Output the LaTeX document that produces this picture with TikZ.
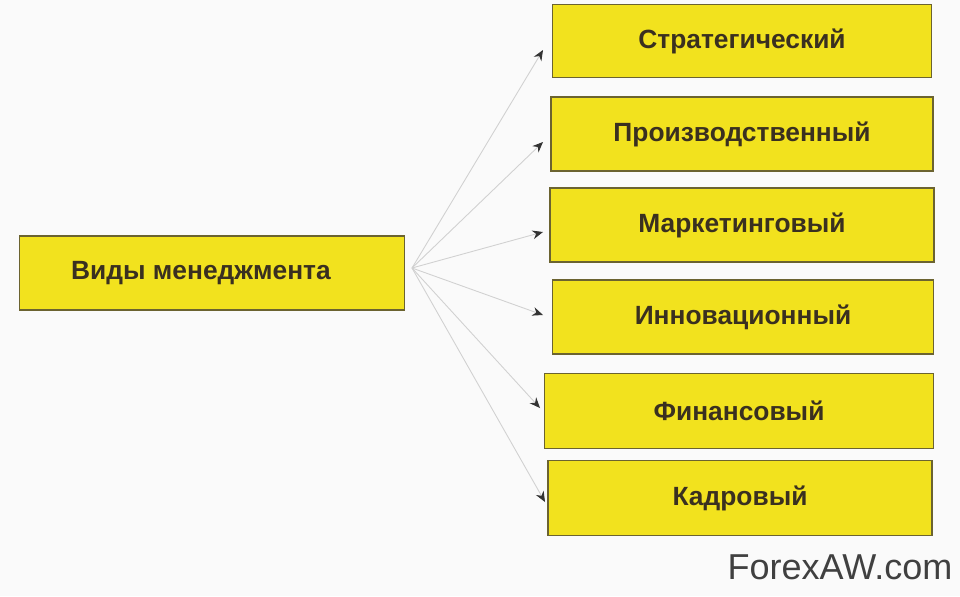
\documentclass[tikz,border=0pt]{standalone}
\usepackage{fontspec}
\setmainfont{Liberation Sans}
\usetikzlibrary{arrows.meta}
\definecolor{boxfill}{HTML}{F2E21E}
\definecolor{boxline}{HTML}{6B6330}
\definecolor{boxtext}{HTML}{3A3020}
\begin{document}
\begin{tikzpicture}[x=0.02cm,y=-0.02cm]
    \tikzstyle{kind}=[draw=boxline, line width=0.9pt, fill=boxfill, inner sep=0pt,
      text=boxtext, font=\bfseries\fontsize{15}{17}\selectfont]
    \tikzstyle{link}=[draw=black!18, line width=0.5pt, -{Stealth[length=6pt,width=5pt,black!80]}]
    \fill [black!2] (0,0) rectangle (960,596);
    \useasboundingbox (0,0) rectangle (960,596);
    \node [kind, minimum width=7.7cm, minimum height=1.48cm] (types) at (212,273) {\hspace*{-0.44cm}Виды менеджмента};
    \node [kind, minimum width=7.58cm, minimum height=1.46cm] (strat) at (742,41) {Стратегический};
    \node [kind, minimum width=7.64cm, minimum height=1.48cm] (prod) at (742,134) {Производственный};
    \node [kind, minimum width=7.68cm, minimum height=1.48cm] (mark) at (742,225) {Маркетинговый};
    \node [kind, minimum width=7.62cm, minimum height=1.48cm] (innov) at (743,317) {Инновационный};
    \node [kind, minimum width=7.78cm, minimum height=1.5cm] (fin) at (739,411) {Финансовый};
    \node [kind, minimum width=7.68cm, minimum height=1.5cm] (staff) at (740,498) {Кадровый};
    \coordinate (hub) at (412,268);
    \coordinate (strat-in) at (543,50);
    \coordinate (prod-in) at (543,142);
    \coordinate (mark-in) at (543,232);
    \coordinate (innov-in) at (543,315);
    \coordinate (fin-in) at (540,408);
    \coordinate (staff-in) at (545,502);
    \draw [link] (hub) -- (strat-in);
    \draw [link] (hub) -- (prod-in);
    \draw [link] (hub) -- (mark-in);
    \draw [link] (hub) -- (innov-in);
    \draw [link] (hub) -- (fin-in);
    \draw [link] (hub) -- (staff-in);
    \node [text=black!75, font=\fontsize{20.5}{24}\selectfont] (mark-w) at (840,567) {ForexAW.com};
\end{tikzpicture}
\end{document}
